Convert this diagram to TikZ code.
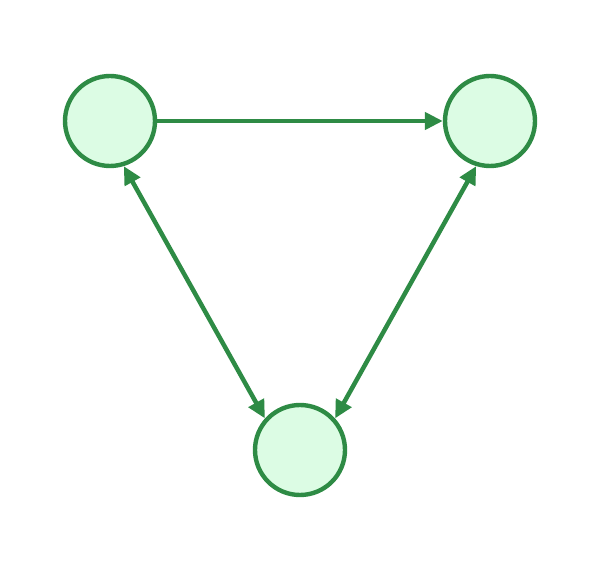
\documentclass[tikz,border=0pt]{standalone}
\usetikzlibrary{arrows.meta}
\definecolor{edgegreen}{HTML}{2E8B45}
\definecolor{fillgreen}{HTML}{DCFCE4}
\begin{document}
\begin{tikzpicture}[x=1pt,y=1pt,
  vnode/.style={circle,draw=edgegreen,fill=fillgreen,line width=4.4pt,minimum size=90pt,inner sep=0pt},
  conn/.style={draw=edgegreen,line width=4.5pt,-{Triangle[length=18pt,width=17pt]}},
  bconn/.style={draw=edgegreen,line width=4.5pt,{Triangle[length=18pt,width=17pt]}-{Triangle[length=18pt,width=17pt]}}]
\useasboundingbox (0,0) rectangle (600,573);
\node[vnode] (a) at (110,452) {};
\node[vnode] (b) at (490,452) {};
\node[vnode] (c) at (300,123) {};
\draw[conn] (a) -- (b);
\draw[bconn] (a.-73) -- (c.138);
\draw[bconn] (b.-107) -- (c.42);
\end{tikzpicture}
\end{document}
